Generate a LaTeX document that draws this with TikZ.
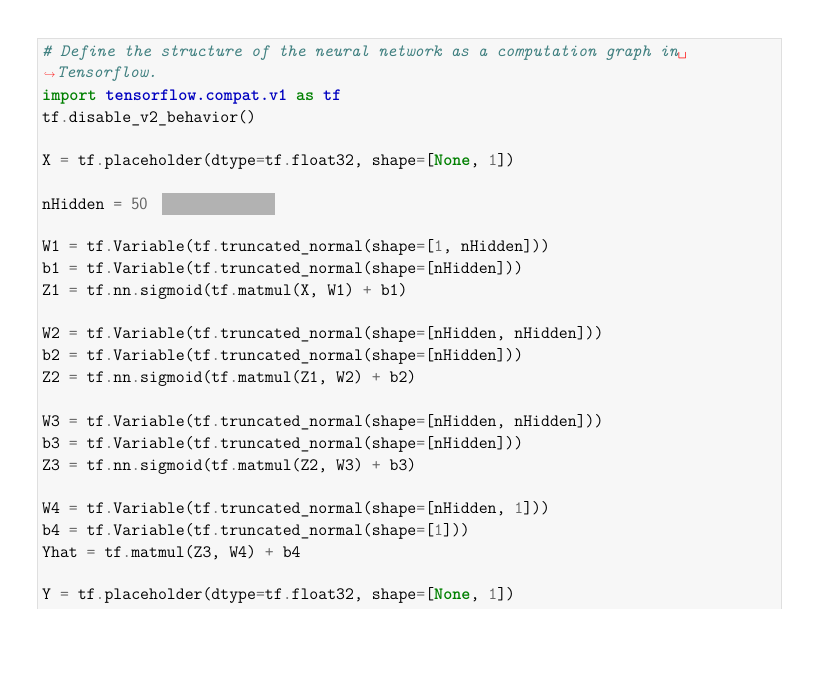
\documentclass[tikz,border=0pt]{standalone}
\usepackage{fontspec}
\definecolor{cmt}{HTML}{408080}
\definecolor{kwg}{HTML}{008000}
\definecolor{nsb}{HTML}{0000C0}
\definecolor{opg}{HTML}{666666}
\newcommand{\cm}[1]{{\color{cmt}\itshape #1}}
\newcommand{\kw}[1]{{\color{kwg}\bfseries #1}}
\newcommand{\nsp}[1]{{\color{nsb}\bfseries #1}}
\newcommand{\op}[1]{{\color{opg}#1}}
\newcommand{\dt}{{\color{opg}.}}
\newcommand{\nm}[1]{{\color{opg}#1}}
\begin{document}
\begin{tikzpicture}[x=1pt,y=-1pt,
  codeline/.style={anchor=base west,inner sep=0pt,font=\fontsize{17.3}{20}\ttfamily}]
\useasboundingbox (0,0) rectangle (817,676);
\fill[white] (0,0) rectangle (817,676);
\fill[gray!6] (37,39) rectangle (781,609);
\draw[gray!25,line width=1pt] (37,609) -- (37,39) -- (781,39) -- (781,609);
\node[codeline] (l1) at (42,57) {\cm{\# Define the structure of the neural network as a computation graph in}{\color{red}\textvisiblespace}};
\node[codeline] (l2a) at (44,78) {\color{red}\fontsize{10}{10}\selectfont$\hookrightarrow$};
\node[codeline] (l2) at (57,78) {\cm{Tensorflow.}};
\node[codeline] (l3) at (42,101) {\kw{import} \nsp{tensorflow.compat.v1} \kw{as} \nsp{tf}};
\node[codeline] (l4) at (42,123) {tf\dt disable\_v2\_behavior()};
\node[codeline] (l5) at (42,166) {X \op{=} tf\dt placeholder(dtype\op{=}tf\dt float32, shape\op{=}[\kw{None}, \nm{1}])};
\node[codeline] (l6) at (42,210) {nHidden \op{=} {\sffamily\color{opg}50}};
\fill[gray!60] (162,193) rectangle (275,215);
\node[codeline] (l7) at (42,252) {W1 \op{=} tf\dt Variable(tf\dt truncated\_normal(shape\op{=}[\nm{1}, nHidden]))};
\node[codeline] (l8) at (42,274) {b1 \op{=} tf\dt Variable(tf\dt truncated\_normal(shape\op{=}[nHidden]))};
\node[codeline] (l9) at (42,296) {Z1 \op{=} tf\dt nn\dt sigmoid(tf\dt matmul(X, W1) \op{+} b1)};
\node[codeline] (l10) at (42,339) {W2 \op{=} tf\dt Variable(tf\dt truncated\_normal(shape\op{=}[nHidden, nHidden]))};
\node[codeline] (l11) at (42,361) {b2 \op{=} tf\dt Variable(tf\dt truncated\_normal(shape\op{=}[nHidden]))};
\node[codeline] (l12) at (42,383) {Z2 \op{=} tf\dt nn\dt sigmoid(tf\dt matmul(Z1, W2) \op{+} b2)};
\node[codeline] (l13) at (42,426) {W3 \op{=} tf\dt Variable(tf\dt truncated\_normal(shape\op{=}[nHidden, nHidden]))};
\node[codeline] (l14) at (42,448) {b3 \op{=} tf\dt Variable(tf\dt truncated\_normal(shape\op{=}[nHidden]))};
\node[codeline] (l15) at (42,470) {Z3 \op{=} tf\dt nn\dt sigmoid(tf\dt matmul(Z2, W3) \op{+} b3)};
\node[codeline] (l16) at (42,513) {W4 \op{=} tf\dt Variable(tf\dt truncated\_normal(shape\op{=}[nHidden, \nm{1}]))};
\node[codeline] (l17) at (42,535) {b4 \op{=} tf\dt Variable(tf\dt truncated\_normal(shape\op{=}[\nm{1}]))};
\node[codeline] (l18) at (42,557) {Yhat \op{=} tf\dt matmul(Z3, W4) \op{+} b4};
\node[codeline] (l19) at (42,599) {Y \op{=} tf\dt placeholder(dtype\op{=}tf\dt float32, shape\op{=}[\kw{None}, \nm{1}])};
\end{tikzpicture}
\end{document}
